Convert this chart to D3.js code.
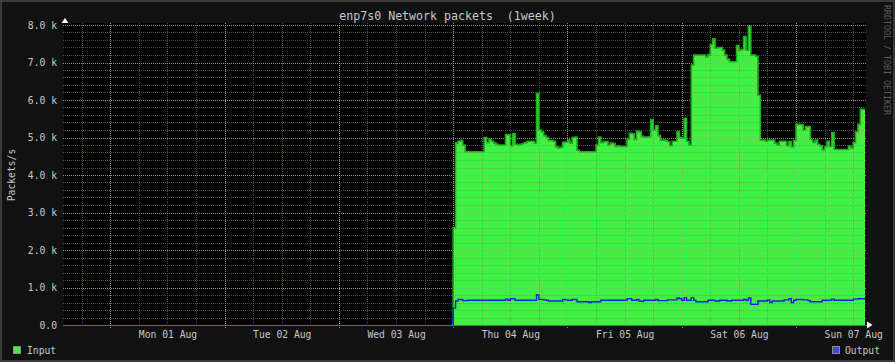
<!DOCTYPE html>
<html><head><meta charset="utf-8">
<script src="https://cdn.jsdelivr.net/npm/d3@7"></script>
<style>
html,body{margin:0;padding:0;background:#111;}
svg{display:block;}
text{font-family:"DejaVu Sans Mono",monospace;}
</style></head><body>
<svg id="c" width="895" height="362"></svg>
<script>
// ---------- data ----------
const title = "enp7s0 Network packets  (1week)";
const yAxisTitle = "Packets/s";
const watermark = "RRDTOOL / TOBI OETIKER";
const seriesNames = ["Input", "Output"];
const yTickValues = [0, 1, 2, 3, 4, 5, 6, 7, 8];            // thousands of packets/s
const yTickLabels = ["0.0", "1.0 k", "2.0 k", "3.0 k", "4.0 k", "5.0 k", "6.0 k", "7.0 k", "8.0 k"];
const xTickLabels = ["Mon 01 Aug", "Tue 02 Aug", "Wed 03 Aug", "Thu 04 Aug", "Fri 05 Aug", "Sat 06 Aug", "Sun 07 Aug"];
const windowEnd = Date.UTC(2022, 7, 7, 14, 28, 40);
const windowSeconds = 604800;                 // 1 week
const sampleStart = Date.UTC(2022, 7, 3, 23, 30);
const sampleStepSec = 1800;                   // 30 min samples
// Input packets/s (thousands)
const inputK = [
  0,
  2.6,4.85,4.9,4.92,4.8,4.62,4.62,4.62,4.62,4.62,
  4.62,4.62,4.62,5.0,4.86,4.96,4.9,4.85,4.82,4.8,
  4.8,4.8,5.08,5.07,4.78,5.1,4.82,4.8,4.82,4.84,
  4.86,4.9,4.9,4.9,4.85,6.18,5.2,5.15,5.05,5.0,
  4.92,4.92,4.9,4.75,4.72,4.74,4.87,4.88,4.93,4.85,
  5.0,5.01,4.66,4.62,4.62,4.62,4.62,4.62,4.62,4.62,
  4.8,5.01,4.86,4.89,4.89,4.8,4.85,4.84,4.76,4.78,
  4.76,4.76,4.76,4.95,5.11,5.1,4.95,5.17,5.15,5.03,
  5.01,5.01,5.02,5.47,5.2,5.31,5.05,4.93,4.93,4.92,
  4.88,4.78,4.9,4.9,5.16,5.0,4.98,5.51,4.9,4.8,
  6.93,7.2,7.2,7.2,7.2,7.2,7.15,7.21,7.48,7.63,
  7.38,7.4,7.4,7.33,7.2,7.09,7.02,7.02,7.02,7.45,
  7.33,7.35,7.69,7.33,7.97,7.2,7.2,7.16,6.13,4.93,
  4.93,4.9,4.93,4.93,4.93,4.85,4.8,4.9,4.9,4.9,
  4.78,4.89,4.75,4.92,5.35,5.35,5.34,5.2,5.29,5.29,
  4.95,4.87,4.93,4.82,4.78,4.67,4.76,4.9,4.76,5.13,
  4.68,4.68,4.68,4.68,4.68,4.68,4.77,4.72,4.86,5.15,
  5.35,5.75,5.75
];
// Output packets/s (thousands)
const outputK = [
  0,
  0.45,0.64,0.68,0.68,0.65,0.65,0.66,0.66,0.66,0.66,
  0.66,0.66,0.66,0.66,0.66,0.66,0.66,0.66,0.66,0.66,
  0.66,0.66,0.69,0.66,0.7,0.7,0.66,0.66,0.66,0.66,
  0.66,0.66,0.66,0.66,0.66,0.8,0.68,0.68,0.67,0.66,
  0.64,0.64,0.64,0.64,0.64,0.64,0.68,0.67,0.66,0.66,
  0.68,0.68,0.62,0.62,0.62,0.62,0.62,0.6,0.62,0.62,
  0.62,0.62,0.66,0.66,0.66,0.66,0.66,0.66,0.66,0.66,
  0.66,0.66,0.66,0.7,0.7,0.66,0.66,0.68,0.64,0.63,
  0.66,0.66,0.66,0.66,0.66,0.68,0.65,0.65,0.65,0.65,
  0.67,0.67,0.67,0.67,0.72,0.7,0.66,0.73,0.66,0.66,
  0.73,0.66,0.62,0.62,0.62,0.62,0.62,0.66,0.66,0.66,
  0.64,0.64,0.66,0.66,0.66,0.64,0.64,0.66,0.66,0.66,
  0.66,0.66,0.68,0.66,0.72,0.55,0.55,0.55,0.64,0.64,
  0.64,0.64,0.67,0.6,0.64,0.64,0.64,0.64,0.64,0.67,
  0.67,0.7,0.6,0.66,0.68,0.68,0.68,0.67,0.67,0.65,
  0.62,0.62,0.62,0.62,0.62,0.66,0.66,0.66,0.66,0.69,
  0.66,0.66,0.66,0.66,0.66,0.66,0.66,0.66,0.69,0.69,
  0.7,0.7,0.7
];

// ---------- layout ----------
const W = 895, H = 362;
const L = 65, R = 865, T = 25, B = 325;
const svg = d3.select("#c");

const tEnd = new Date(windowEnd);
const tStart = new Date(windowEnd - windowSeconds * 1000);
const x = d3.scaleUtc().domain([tStart, tEnd]).range([L, R]);
const y = d3.scaleLinear().domain([0, 8]).range([B, T]);

function toSeries(vals) {
  const pts = vals.map((v, i) => ({ t: new Date(sampleStart + i * sampleStepSec * 1000), v }));
  pts.push({ t: new Date(sampleStart + vals.length * sampleStepSec * 1000), v: vals[vals.length - 1] });
  return pts;
}
const inSeries = toSeries(inputK);
const outSeries = toSeries(outputK);

// background + frame
svg.append("rect").attr("x", 0).attr("y", 0).attr("width", W).attr("height", H).attr("fill", "#3a3a3a");
svg.append("rect").attr("x", 2).attr("y", 2).attr("width", W - 4).attr("height", H - 4).attr("fill", "#111111");
// canvas
svg.append("rect").attr("x", L - 1).attr("y", T - 2).attr("width", R - L + 2).attr("height", B - T + 2).attr("fill", "#000");

const defs = svg.append("defs");
defs.append("clipPath").attr("id", "plotclip").append("rect")
  .attr("x", L).attr("y", T - 3).attr("width", R - L).attr("height", B - T + 3);

const area = d3.area().curve(d3.curveStepAfter)
  .x(d => x(d.t)).y0(y(0)).y1(d => y(d.v));
const line = d3.line().curve(d3.curveStepAfter)
  .x(d => x(d.t)).y(d => y(d.v));

defs.append("clipPath").attr("id", "areaclip").append("path").attr("d", area(inSeries));

// grid positions
const hMinor = d3.range(0, 8.0001, 0.2).filter(v => Math.abs(v - Math.round(v)) > 1e-6);
const hMajor = yTickValues;
const vAll = d3.utcHour.every(6).range(tStart, tEnd);
const vMinor = vAll.filter(d => d.getUTCHours() !== 0);
const vMajor = vAll.filter(d => d.getUTCHours() === 0);

function drawGrid(g, minorCol, majorCol) {
  g.selectAll(".hmin").data(hMinor).join("line")
    .attr("x1", L - 2).attr("x2", R + 2)
    .attr("y1", d => Math.round(y(d)) + 0.5).attr("y2", d => Math.round(y(d)) + 0.5)
    .attr("stroke", minorCol).attr("stroke-dasharray", "1,1").attr("shape-rendering", "crispEdges");
  g.selectAll(".vmin").data(vMinor).join("line")
    .attr("x1", d => Math.round(x(d)) + 0.5).attr("x2", d => Math.round(x(d)) + 0.5)
    .attr("y1", T - 2).attr("y2", B + 2)
    .attr("stroke", minorCol).attr("stroke-dasharray", "1,1").attr("shape-rendering", "crispEdges");
  g.selectAll(".hmaj").data(hMajor).join("line")
    .attr("x1", L - 2).attr("x2", R + 2)
    .attr("y1", d => Math.round(y(d)) + 0.5).attr("y2", d => Math.round(y(d)) + 0.5)
    .attr("stroke", majorCol).attr("stroke-dasharray", "1,1").attr("shape-rendering", "crispEdges");
  g.selectAll(".vmaj").data(vMajor).join("line")
    .attr("x1", d => Math.round(x(d)) + 0.5).attr("x2", d => Math.round(x(d)) + 0.5)
    .attr("y1", T - 2).attr("y2", B + 3)
    .attr("stroke", majorCol).attr("stroke-dasharray", "1,1").attr("shape-rendering", "crispEdges");
}

// grid beneath
svg.append("g").call(g => drawGrid(g, "#4e5026", "#8e9a80"));

// input area
svg.append("g").attr("clip-path", "url(#plotclip)")
  .append("path").attr("d", area(inSeries)).attr("fill", "#44ee44");

// grid over area (blended look)
svg.append("g").attr("clip-path", "url(#areaclip)").call(g => drawGrid(g, "#b08e48", "#aaa878"));

// input outline
svg.append("g").attr("clip-path", "url(#plotclip)")
  .append("path").attr("d", line(inSeries)).attr("fill", "none")
  .attr("stroke", "#1cb01c").attr("stroke-width", 1.6);

// x axis line
svg.append("line").attr("x1", L - 2).attr("x2", R + 2).attr("y1", B + 0.5).attr("y2", B + 0.5)
  .attr("stroke", "#2f8f2f");

// output line
svg.append("g").attr("clip-path", "url(#plotclip)")
  .append("path").attr("d", line(outSeries)).attr("fill", "none")
  .attr("stroke", "#1a1af0").attr("stroke-width", 1.4);

// arrows
svg.append("path").attr("d", `M${L},${T - 7}L${L - 3.5},${T - 2}L${L + 3.5},${T - 2}Z`).attr("fill", "#fff");
svg.append("path").attr("d", `M${R + 2},${B - 3.5}L${R + 7.5},${B}L${R + 2},${B + 3.5}Z`).attr("fill", "#fff");

// axes labels
const yAxis = d3.axisLeft(y).tickValues(yTickValues).tickFormat((d, i) => yTickLabels[i]).tickSize(0).tickPadding(8);
const gy = svg.append("g").attr("transform", `translate(${L},0)`).call(yAxis);
gy.select(".domain").remove();
gy.selectAll("text").attr("fill", "#c8c8c8").style("font-family", "'DejaVu Sans Mono',monospace").style("font-size", "9.7px");

const noons = d3.utcDay.range(tStart, tEnd).map(d => d3.utcHour.offset(d, 12)).filter(d => d < tEnd);
const xAxis = d3.axisBottom(x).tickValues(noons).tickFormat((d, i) => xTickLabels[i]).tickSize(0).tickPadding(6);
const gx = svg.append("g").attr("transform", `translate(0,${B})`).call(xAxis);
gx.select(".domain").remove();
gx.selectAll("text").attr("fill", "#c8c8c8").style("font-family", "'DejaVu Sans Mono',monospace").style("font-size", "9.7px");

// title (keep the double space)
svg.append("text").attr("x", W / 2).attr("y", 20).attr("text-anchor", "middle")
  .attr("xml:space", "preserve").style("white-space", "pre")
  .attr("fill", "#c8c8c8").style("font-size", "11.6px").text(title);

// y axis title
svg.append("text").attr("transform", `translate(15,${(T + B) / 2}) rotate(-90)`)
  .attr("text-anchor", "middle").attr("fill", "#c8c8c8").style("font-size", "9.7px").text(yAxisTitle);

// watermark
svg.append("text").attr("transform", `translate(884,5) rotate(90)`)
  .attr("fill", "#5c5c5c").style("font-size", "8.3px").text(watermark);

// legend
const legendCols = ["#44ee44", "#4444ee"];
const lg = svg.append("g");
lg.append("rect").attr("x", 13.5).attr("y", 346.5).attr("width", 7).attr("height", 7)
  .attr("fill", legendCols[0]).attr("stroke", "#8a8a8a");
lg.append("text").attr("x", 27).attr("y", 353.5).attr("fill", "#c8c8c8").style("font-size", "9.7px").text(seriesNames[0]);
lg.append("rect").attr("x", 832.5).attr("y", 346.5).attr("width", 7).attr("height", 7)
  .attr("fill", legendCols[1]).attr("stroke", "#8a8a8a");
lg.append("text").attr("x", 845).attr("y", 353.5).attr("fill", "#c8c8c8").style("font-size", "9.7px").text(seriesNames[1]);
</script>
</body></html>
